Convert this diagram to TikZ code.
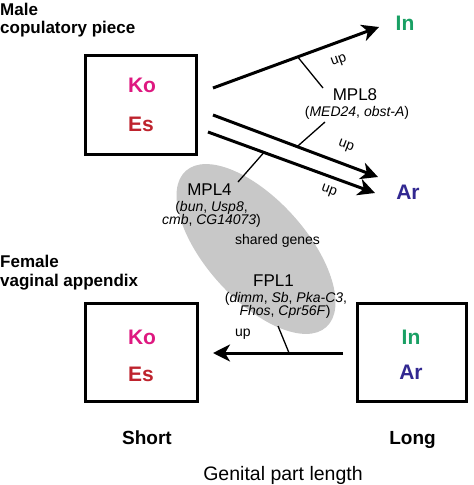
\documentclass[tikz,border=0pt]{standalone}
\usepackage{fontspec}
\setmainfont{Liberation Sans}
\usetikzlibrary{arrows.meta,shapes.geometric}
\definecolor{komag}{RGB}{222,24,128}
\definecolor{esred}{RGB}{190,35,45}
\definecolor{ingreen}{RGB}{25,160,100}
\definecolor{arblue}{RGB}{50,40,145}
\definecolor{ellgray}{RGB}{200,200,200}
\tikzset{
  boxline/.style={draw, line width=3pt, inner sep=0, rectangle},
  big/.style={font=\fontsize{21}{23}\selectfont\bfseries, inner sep=0, anchor=center},
  side/.style={font=\fontsize{17}{19}\selectfont\bfseries, inner sep=0, anchor=base west},
  mpl/.style={font=\fontsize{17}{19}\selectfont, inner sep=0, anchor=base},
  gene/.style={font=\fontsize{14}{14}\selectfont, inner sep=0, anchor=base},
  uplbl/.style={font=\fontsize{14}{14}\selectfont, inner sep=0, anchor=center},
  lenlbl/.style={font=\fontsize{19}{21}\selectfont\bfseries, inner sep=0, anchor=base},
  mainarr/.style={line width=3pt, -{Stealth[length=17pt,width=17pt,inset=5pt]}},
  conn/.style={line width=1.3pt}
}
\begin{document}
\begin{tikzpicture}[x=1pt,y=-1pt]
\useasboundingbox (0,0) rectangle (474,485);
\fill[white] (0,0) rectangle (474,485);

% shared genes ellipse
\node[ellipse, fill=ellgray, minimum width=210pt, minimum height=100pt, inner sep=0, rotate=-48] (ell) at (256,249) {};

% boxes
\node[boxline, minimum width=111pt, minimum height=99pt] (tl) at (141,105) {};
\node[boxline, minimum width=112pt, minimum height=98pt] (bl) at (141.5,352.5) {};
\node[boxline, minimum width=109pt, minimum height=98pt] (br) at (412,352.5) {};

% box contents
\node[big, text=komag] (ko1) at (142,85.5) {Ko};
\node[big, text=esred] (es1) at (141,124.5) {Es};
\node[big, text=komag] (ko2) at (142,337.5) {Ko};
\node[big, text=esred] (es2) at (141,374) {Es};
\node[big, text=ingreen] (in2) at (411,337) {In};
\node[big, text=arblue] (ar2) at (411,372) {Ar};

% targets
\node[big, text=ingreen] (in1) at (405,23) {In};
\node[big, text=arblue] (ar1) at (408,192) {Ar};

% side labels
\node[side] (male) at (0,15) {Male};
\node[side] (cop) at (0,33) {copulatory piece};
\node[side] (fem) at (0,267) {Female};
\node[side] (vag) at (0,286) {vaginal appendix};

% arrow coordinates
\coordinate (s1) at (213,88);
\coordinate (t1) at (379,27);
\coordinate (s2) at (213,115);
\coordinate (t2) at (378,177);
\coordinate (s3) at (208,132);
\coordinate (t3) at (375,193);
\coordinate (s4) at (343,353);
\coordinate (t4) at (213,353);

\draw[mainarr] (s1) -- (t1) coordinate[pos=0.51] (m1);
\draw[mainarr] (s2) -- (t2) coordinate[pos=0.51] (m2);
\draw[mainarr] (s3) -- (t3) coordinate[pos=0.335] (m3);
\draw[mainarr] (s4) -- (t4) coordinate[pos=0.415] (m4);

% up labels
\node[uplbl, rotate=20] (up1) at (339,61) {up};
\node[uplbl, rotate=-20.6] (up2) at (346,146) {up};
\node[uplbl, rotate=-20] (up3) at (329,191) {up};
\node[uplbl] (up4) at (243,334) {up};

% gene labels
\node[mpl] (mpl8) at (355,100) {MPL8};
\node[gene] (mpl8g) at (357,116.7) {(\textit{MED24}, \textit{obst-A})};
\node[mpl] (mpl4) at (209.5,195) {MPL4};
\node[gene] (mpl4g1) at (211.5,211) {(\textit{bun}, \textit{Usp8},};
\node[gene] (mpl4g2) at (211.5,224) {\textit{cmb}, \textit{CG14073})};
\node[gene] (shared) at (277.5,244) {shared genes};
\node[mpl] (fpl1) at (273.5,286) {FPL1};
\node[gene] (fpl1g1) at (286,302.5) {(\textit{dimm}, \textit{Sb}, \textit{Pka-C3},};
\node[gene] (fpl1g2) at (285,315) {\textit{Fhos}, \textit{Cpr56F})};

% connector lines
\coordinate (c8a) at (323,88);
\coordinate (c8b) at (325,122);
\coordinate (c4) at (238,182);
\coordinate (c1) at (278,326);
\draw[conn] (c8a) -- (m1);
\draw[conn] (c8b) -- (m2);
\draw[conn] (c4) -- (m3);
\draw[conn] (c1) -- (m4);

% axis labels
\node[lenlbl] (short) at (147,444) {Short};
\node[lenlbl] (long) at (412.5,444) {Long};
\node[font=\fontsize{19.5}{21}\selectfont, inner sep=0, anchor=base] (gpl) at (283,480) {Genital part length};
\end{tikzpicture}
\end{document}
